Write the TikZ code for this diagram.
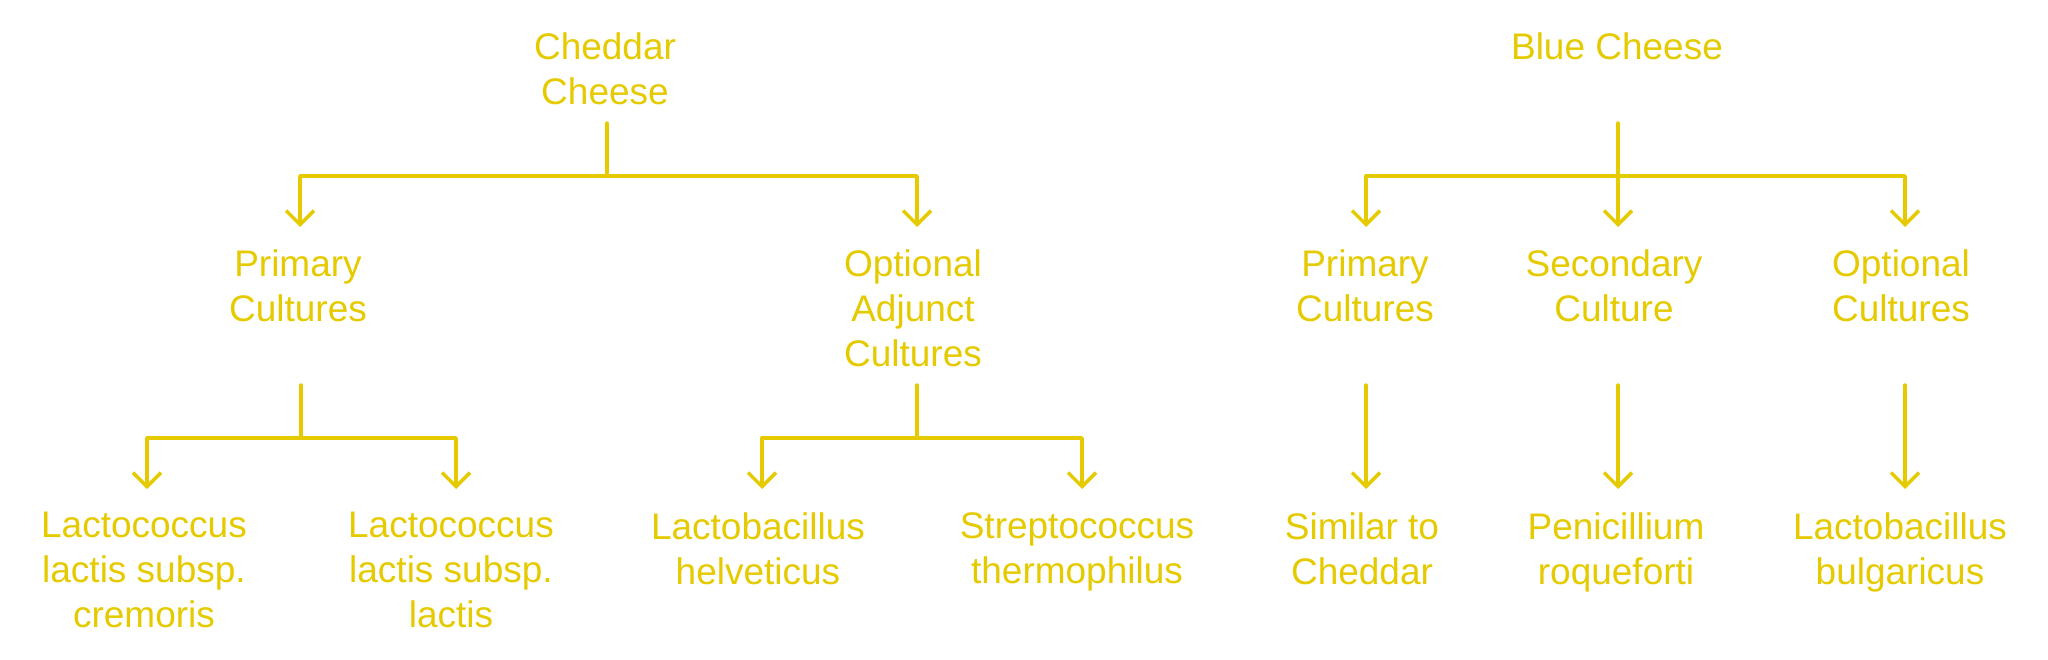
\documentclass[tikz,border=0pt]{standalone}
\usepackage{fontspec}
\setmainfont{Liberation Sans}
\usetikzlibrary{arrows.meta}
\definecolor{cheese}{RGB}{230,202,0}
\tikzset{
  lbl/.style={text=cheese, align=center, anchor=north, inner sep=0pt,
    font=\fontsize{37}{45}\selectfont},
  conn/.style={draw=cheese, line width=3.4pt, line cap=round, line join=round},
  arr/.style={conn, -{Straight Barb[length=14pt,width=28pt,line width=3.4pt]}}
}
\begin{document}
\begin{tikzpicture}[x=1pt,y=-1pt]
\useasboundingbox (0,0) rectangle (2048,660);
% nodes
\node[lbl] (ched) at (605,32) {Cheddar\\Cheese};
\node[lbl] (blue) at (1617,32) {Blue Cheese};
\node[lbl] (cprim) at (298,249) {Primary\\Cultures};
\node[lbl] (copt) at (913,249) {Optional\\Adjunct\\Cultures};
\node[lbl] (bprim) at (1365,249) {Primary\\Cultures};
\node[lbl] (bsec) at (1614,249) {Secondary\\Culture};
\node[lbl] (bopt) at (1901,249) {Optional\\Cultures};
\node[lbl] (l1) at (144,512) {Lactococcus\\lactis subsp.\\cremoris};
\node[lbl] (l2) at (451,512) {Lactococcus\\lactis subsp.\\lactis};
\node[lbl] (l3) at (758,512) {Lactobacillus\\helveticus};
\node[lbl] (l4) at (1077,512) {Streptococcus\\thermophilus};
\node[lbl] (l5) at (1362,512) {Similar to\\Cheddar};
\node[lbl] (l6) at (1616,512) {Penicillium\\roqueforti};
\node[lbl] (l7) at (1900,512) {Lactobacillus\\bulgaricus};
% connector coordinates
\coordinate (chedout) at (607,123);
\coordinate (chedbus) at (607,176);
\coordinate (cprimin) at (300,227);
\coordinate (coptin) at (917,227);
\coordinate (blueout) at (1618,123);
\coordinate (bluebus) at (1618,176);
\coordinate (bprimin) at (1366,227);
\coordinate (bsecin) at (1618,227);
\coordinate (boptin) at (1905,227);
\coordinate (cprimout) at (301,385);
\coordinate (cprimbus) at (301,438);
\coordinate (l1in) at (147,489);
\coordinate (l2in) at (456,489);
\coordinate (coptout) at (917,385);
\coordinate (coptbus) at (917,438);
\coordinate (l3in) at (762,489);
\coordinate (l4in) at (1082,489);
\coordinate (bprimout) at (1366,385);
\coordinate (l5in) at (1366,489);
\coordinate (bsecout) at (1618,385);
\coordinate (l6in) at (1618,489);
\coordinate (boptout) at (1905,385);
\coordinate (l7in) at (1905,489);
% connectors
\draw[conn] (chedout) -- (chedbus);
\draw[arr] (chedbus) -| (cprimin);
\draw[arr] (chedbus) -| (coptin);
\draw[arr] (blueout) -- (bsecin);
\draw[arr] (bluebus) -| (bprimin);
\draw[arr] (bluebus) -| (boptin);
\draw[conn] (cprimout) -- (cprimbus);
\draw[arr] (cprimbus) -| (l1in);
\draw[arr] (cprimbus) -| (l2in);
\draw[conn] (coptout) -- (coptbus);
\draw[arr] (coptbus) -| (l3in);
\draw[arr] (coptbus) -| (l4in);
\draw[arr] (bprimout) -- (l5in);
\draw[arr] (bsecout) -- (l6in);
\draw[arr] (boptout) -- (l7in);
\end{tikzpicture}
\end{document}
